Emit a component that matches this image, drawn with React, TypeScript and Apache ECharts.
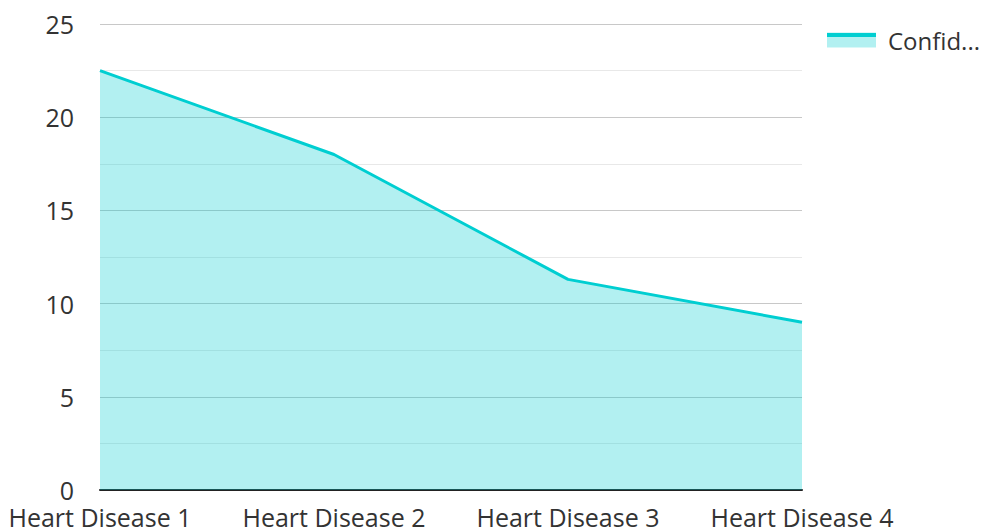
import React, { useEffect, useRef } from "react";
import * as echarts from "echarts";

const categories = ["Heart Disease 1", "Heart Disease 2", "Heart Disease 3", "Heart Disease 4"];
const values = [22.5, 18.0, 11.3, 9.0];
const seriesName = "Confidence Interval";
const yTicks = [0, 5, 10, 15, 20, 25];

const LINE = "#00CED1";
const FONT = "'Open Sans', sans-serif";
const FS = 25;

export default function App() {
  const ref = useRef<HTMLDivElement>(null);
  useEffect(() => {
    if (!ref.current) return;
    const chart = echarts.init(ref.current, null, { renderer: "svg" });
    chart.setOption({
      animation: false,
      textStyle: { fontFamily: FONT },
      grid: { left: 100, right: 182, top: 24, bottom: 41, containLabel: false },
      legend: {
        show: true,
        left: 827,
        top: 28,
        padding: 0,
        icon: "rect",
        itemWidth: 49,
        itemHeight: 15,
        itemGap: 10,
        itemStyle: { color: "rgba(0,206,209,0.3)", borderWidth: 0 },
        lineStyle: { width: 0 },
        textStyle: { fontSize: FS - 1, color: "#333", fontFamily: FONT, padding: [0, 0, 0, 7] },
        formatter: (n: string) => n.slice(0, 6) + "...",
        data: [{ name: seriesName }],
      },
      graphic: [
        {
          type: "rect",
          shape: { x: 827, y: 33, width: 49, height: 4 },
          style: { fill: LINE },
          silent: true,
        },
      ],
      xAxis: {
        type: "category",
        data: categories,
        boundaryGap: false,
        axisLine: { show: true, lineStyle: { color: "#222", width: 2 } },
        axisTick: { show: false },
        axisLabel: { fontSize: FS, color: "#333", margin: 14, fontFamily: FONT, interval: 0, hideOverlap: false },
        splitLine: { show: false },
      },
      yAxis: {
        type: "value",
        min: yTicks[0],
        max: yTicks[yTicks.length - 1],
        interval: 5,
        axisLine: { show: false },
        axisTick: { show: false },
        axisLabel: { fontSize: FS, color: "#333", margin: 26, fontFamily: FONT },
        splitLine: { show: true, lineStyle: { color: "#c8c8c8", width: 1 } },
        minorTick: { show: false, splitNumber: 2 },
        minorSplitLine: { show: true, lineStyle: { color: "#e8e8e8", width: 1 } },
      },
      series: [
        {
          name: seriesName,
          type: "line",
          data: values,
          showSymbol: false,
          symbol: "none",
          lineStyle: { color: LINE, width: 3 },
          itemStyle: { color: LINE },
          areaStyle: { color: LINE, opacity: 0.3 },
        },
      ],
    });
    return () => chart.dispose();
  }, []);
  return <div ref={ref} style={{ width: 984, height: 531, position: "absolute", left: 0, top: 0 }} />;
}
